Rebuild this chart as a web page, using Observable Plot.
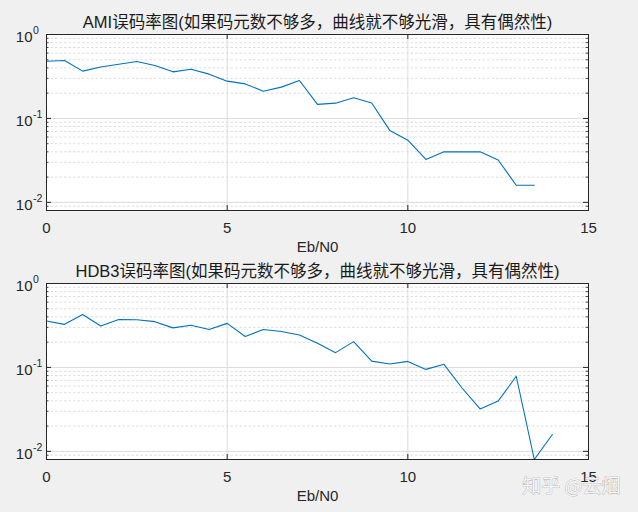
<!DOCTYPE html>
<html>
<head>
<meta charset="utf-8">
<script src="https://cdn.jsdelivr.net/npm/d3@7"></script>
<script src="https://cdn.jsdelivr.net/npm/@observablehq/plot@0.6"></script>
<style>
  html, body { margin: 0; padding: 0; background: #f0f0f0; }
  #chart { width: 638px; height: 512px; overflow: hidden; }
  svg { display: block; background: transparent !important; }
</style>
</head>
<body>
<div id="chart"></div>
<script>
// ---- data ----
const amiTitle = "AMI误码率图(如果码元数不够多，曲线就不够光滑，具有偶然性)";
const hdb3Title = "HDB3误码率图(如果码元数不够多，曲线就不够光滑，具有偶然性)";
const xLabel = "Eb/N0";

const amiEbN0 = [0, 0.5, 1, 1.5, 2, 2.5, 3, 3.5, 4, 4.5, 5, 5.5, 6, 6.5, 7, 7.5, 8, 8.5, 9, 9.5, 10, 10.5, 11, 11.5, 12, 12.5, 13, 13.5];
const amiBer = [0.48, 0.49, 0.366, 0.41, 0.443, 0.476, 0.427, 0.359, 0.386, 0.337, 0.278, 0.258, 0.211, 0.236, 0.283, 0.147, 0.152, 0.176, 0.153, 0.072, 0.055, 0.0325, 0.04, 0.04, 0.04, 0.032, 0.016, 0.016];

const hdb3EbN0 = [0, 0.5, 1, 1.5, 2, 2.5, 3, 3.5, 4, 4.5, 5, 5.5, 6, 6.5, 7, 7.5, 8, 8.5, 9, 9.5, 10, 10.5, 11, 11.5, 12, 12.5, 13, 13.5, 14];
const hdb3Ber = [0.357, 0.326, 0.427, 0.312, 0.373, 0.370, 0.351, 0.296, 0.318, 0.283, 0.335, 0.234, 0.283, 0.268, 0.243, 0.194, 0.150, 0.203, 0.119, 0.110, 0.118, 0.0948, 0.109, 0.0569, 0.032, 0.0397, 0.0785, 0.008, 0.0159];

const xTicks = [0, 5, 10, 15];
const xInnerTicks = [5, 10];
const yTicks = [1, 0.1, 0.01];
const yMajorGrid = [0.1, 0.01];
const yMinor = [0.008, 0.009, 0.02, 0.03, 0.04, 0.05, 0.06, 0.07, 0.08, 0.09, 0.2, 0.3, 0.4, 0.5, 0.6, 0.7, 0.8, 0.9];
const xDomain = [0, 15];
const yDomain = [0.008, 1];

const W = 638, H = 256;
const mL = 46, mR = 50;
const FW = W - mL - mR;
const ink = "#262626";
const font = "'Liberation Sans', Arial, 'Noto Sans CJK SC', sans-serif";

function makePlot(title, xs, ys, mT, mB, watermark) {
  const FH = H - mT - mB;
  const data = xs.map((x, i) => ({x, y: ys[i]}));
  const marks = [
    Plot.frame({fill: "white", stroke: null}),
    // grids
    Plot.ruleY(yMinor, {y: d => d, stroke: "#d6d6d6", strokeDasharray: "2.5,2", strokeWidth: 0.8}),
    Plot.ruleY(yMajorGrid, {y: d => d, stroke: "#dcdcdc", strokeWidth: 1}),
    Plot.ruleX(xInnerTicks, {x: d => d, stroke: "#dcdcdc", strokeWidth: 1}),
    // data line
    Plot.line(data, {x: "x", y: "y", stroke: "#0072BD", strokeWidth: 1.1}),
    // inward ticks
    Plot.tickY(yTicks, {y: d => d, insetRight: FW - 5, stroke: ink}),
    Plot.tickY(yTicks, {y: d => d, insetLeft: FW - 5, stroke: ink}),
    Plot.tickY(yMinor, {y: d => d, insetRight: FW - 2.5, stroke: ink, strokeWidth: 0.8}),
    Plot.tickY(yMinor, {y: d => d, insetLeft: FW - 2.5, stroke: ink, strokeWidth: 0.8}),
    Plot.tickX(xInnerTicks, {x: d => d, insetTop: FH - 5, stroke: ink}),
    Plot.tickX(xInnerTicks, {x: d => d, insetBottom: FH - 5, stroke: ink}),
    Plot.frame({stroke: ink, strokeWidth: 1}),
    // tick labels
    Plot.text(xTicks, {x: d => d, text: d => String(d), frameAnchor: "bottom", lineAnchor: "middle", dy: 17.7, fontSize: 15, fill: ink}),
    Plot.text(yTicks, {y: d => d, text: () => "10", frameAnchor: "left", lineAnchor: "middle", textAnchor: "end", dx: -14, dy: 3, fontSize: 15, fill: ink}),
    Plot.text(yTicks, {y: d => d, text: d => String(Math.round(Math.log10(d))), frameAnchor: "left", lineAnchor: "middle", textAnchor: "start", dx: -13.5, dy: -3.5, fontSize: 10.5, fill: ink}),
    // axis label
    Plot.text([xLabel], {text: d => d, frameAnchor: "bottom", lineAnchor: "middle", dy: 37, fontSize: 15, fill: ink}),
    // title
    Plot.text([title], {text: d => d, frameAnchor: "top", lineAnchor: "middle", dy: -12, fontSize: 16.5, fill: "#1a1a1a", fontFamily: "'Liberation Sans', 'Noto Sans CJK SC', sans-serif"})
  ];
  if (watermark) {
    marks.push(Plot.text([watermark], {text: d => d, frameAnchor: "bottom-right", lineAnchor: "middle", textAnchor: "end", dx: 32, dy: 27.7, fontSize: 19, fill: "#f6f6f6", stroke: "#a8a8a8", strokeWidth: 0.7, fontFamily: "'Noto Sans CJK SC', sans-serif"}));
  }
  return Plot.plot({
    width: W, height: H,
    marginLeft: mL, marginRight: mR, marginTop: mT, marginBottom: mB,
    style: {background: "transparent", fontFamily: font, overflow: "visible"},
    x: {domain: xDomain, axis: null},
    y: {type: "log", domain: yDomain, axis: null},
    marks
  });
}

const chart = document.getElementById("chart");
chart.appendChild(makePlot(amiTitle, amiEbN0, amiBer, 34, 46));
chart.appendChild(makePlot(hdb3Title, hdb3EbN0, hdb3Ber, 27, 53, "知乎 @云烟"));
</script>
</body>
</html>
